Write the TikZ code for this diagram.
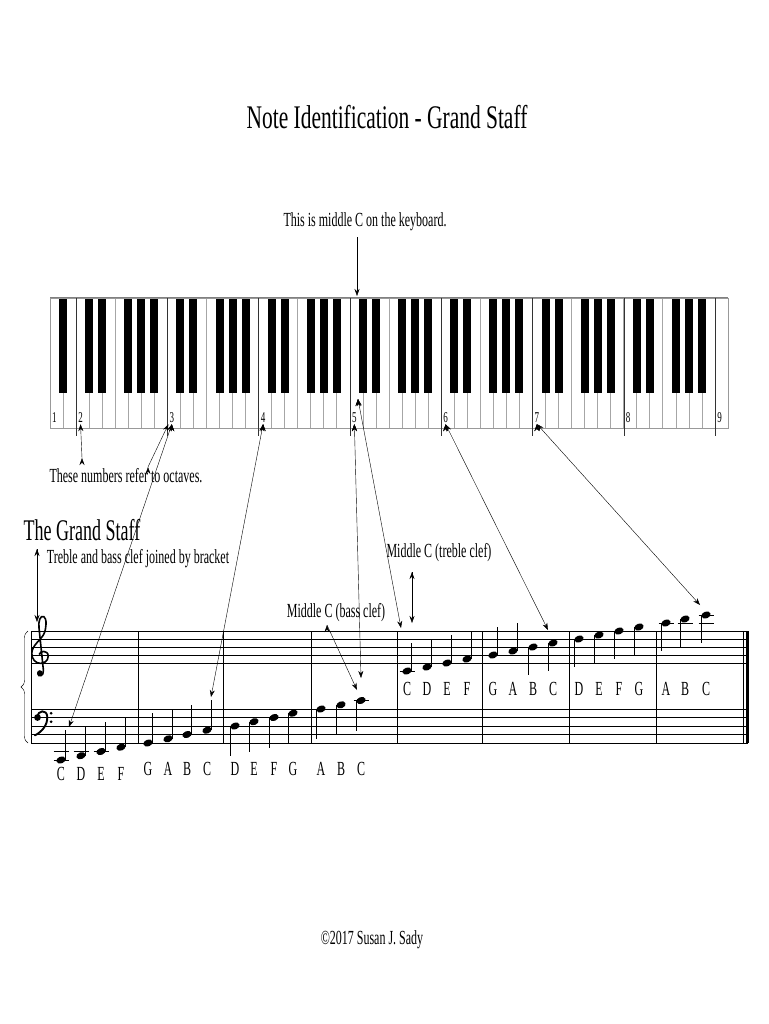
\documentclass[tikz,border=0pt]{standalone}
\usepackage{fontspec}
\setmainfont[FakeStretch=0.6]{Liberation Serif}
\newfontfamily\titolo[FakeStretch=0.65]{Liberation Serif}
\usetikzlibrary{arrows,arrows.meta,positioning,calc,shapes.geometric,decorations.pathreplacing}
\tikzset{main base/.style={inner sep=0pt,text centered, }, }
\tikzset{main text/.style={main base,font=\fontsize{20}{22}\selectfont}, }
\tikzset{main num/.style={inner sep=1pt,anchor=west,font=\fontsize{15}{16}\selectfont}, }
\tikzset{nota/.style={ellipse,fill,inner sep=0pt,minimum width=9.5pt,minimum height=6.8pt,rotate=20}, }
\tikzset{tasto/.style={draw=gray!70,fill=white,line width=0.8pt}, }
\tikzset{rigo/.style={draw,line width=1pt}, }
\tikzset{linea/.style={-{Stealth[length=7pt,width=5pt]},draw}}
\tikzset{linea2/.style={{Stealth[length=7pt,width=5pt]}-{Stealth[length=7pt,width=5pt]},draw}}

\begin{document}
\begin{tikzpicture}[x=1pt,y=-1pt]
  \useasboundingbox (0,0) rectangle (768,1024);
  % titles and texts
  \node[main base,font=\fontsize{33}{36}\titolo] (titolo) at (387,117) {Note Identification - Grand Staff};
  \node[main text] (tmid) at (365,222) {This is middle C on the keyboard.};
  \node[main text] (tott) at (126,476) {These numbers refer to octaves.};
  \node[main base,font=\fontsize{30}{32}\selectfont] (tgs) at (82,530) {The Grand Staff};
  \node[main text] (tbr) at (138,559) {Treble and bass clef joined by bracket};
  \node[main text] (mct) at (439,553) {Middle C (treble clef)};
  \node[main text] (mcb) at (336,613) {Middle C (bass clef)};
  \node[main text] (copy) at (372,940) {\textcopyright2017 Susan J. Sady};
  % keyboard
  \foreach \i in {0,...,51}
    \draw[tasto] ({50+13.04*\i},298) rectangle ++(13.04,130);
  \foreach \o in {0,...,6}
    \foreach \k in {1,2,4,5,6}
      \fill ({50+13.04*(2+7*\o+\k)-4},298) rectangle ++(8,95);
  \fill ({50+13.04-4},298) rectangle ++(8,95);
  \draw[gray,line width=2pt] (50,298) -- (728,298);
  \draw[gray!80,line width=1pt] (50,298) rectangle (728,428);
  \node[main num] (n1) at (51,418) {1};
  \foreach \k in {2,...,9}{
    \draw[gray!40!black] ({50+13.04*(2+7*(\k-2))},298) -- ++(0,138);
    \node[main num] (n\k) at ({50+13.04*(2+7*(\k-2))+1},418) {\k};
  }
  % staff
  \foreach \y in {631,639,647,655,663,709,717.5,726,734.5,743}
    \draw[rigo] (31,\y) -- (748,\y);
  \foreach \x in {31,138,223,311,397,482,569,656,743}
    \draw (\x,631) -- (\x,743);
  \draw[line width=3pt] (747.5,631) -- (747.5,743);
  \draw[decorate,decoration={brace,amplitude=7pt}] (28,743) -- (28,631);
  % treble clef (units: staff spaces, origin on the G line)
  \begin{scope}[shift={(41,655)},x=8pt,y=8pt,line width=1.6pt,line cap=round]
    \draw (-0.2,0.1) .. controls (-0.2,0.5) and (0.9,0.7) .. (0.9,-0.15)
      .. controls (0.9,-0.8) and (0.3,-1.05) .. (-0.05,-1.05)
      .. controls (-0.7,-1.05) and (-1.15,-0.5) .. (-1.15,0.2)
      .. controls (-1.15,1.2) and (0,1.9) .. (0.35,2.6)
      .. controls (0.7,3.3) and (0.75,4.6) .. (0.35,4.8)
      .. controls (-0.1,5.0) and (-0.35,4.2) .. (-0.25,3.4)
      -- (0.3,-1.9)
      .. controls (0.4,-2.7) and (-0.4,-2.8) .. (-0.4,-2.3);
    \fill (-0.15,-2.25) circle (0.35);
  \end{scope}
  % bass clef (origin on the F line)
  \begin{scope}[shift={(37.5,717.5)},x=8.5pt,y=8.5pt,line cap=round]
    \fill (0,0) circle (0.4);
    \draw[line width=1.9pt] (0,0) .. controls (0,0.9) and (1.1,1.0) .. (1.15,0.1)
      .. controls (1.2,-0.9) and (0.5,-1.7) .. (-0.3,-2.1);
    \fill (1.6,0.5) circle (0.17) (1.6,-0.5) circle (0.17);
  \end{scope}
  % notes: x/y/stem/letter/letter y
  \foreach \x/\y/\s/\l/\ly [count=\i] in {61/760/1/C/774,81/755.7/1/D/774,101/751.5/1/E/774,121/747.2/1/F/774,
      148/743/1/G/769,168/738.8/1/A/769,187/734.5/1/B/769,207/730.2/1/C/769,
      235/726/-1/D/769,254/721.7/-1/E/769,274/717.5/-1/F/769,293/713.2/-1/G/769,
      321/709/-1/A/769,341/704.8/-1/B/769,361/700.5/-1/C/769}{
    \node[nota] (b\i) at (\x,\y) {};
    \draw[line width=0.7pt] ({\x+4.2*\s},\y) -- ({\x+4.2*\s},{\y-30*\s});
    \node[main text] (lb\i) at (\x,\ly) {\l};
  }
  \foreach \x/\y/\s/\l [count=\i] in {407/671/1/C,427/667/1/D,447/663/1/E,467/659/1/F,
      493/655/1/G,513/651/1/A,533/647/-1/B,553/643/-1/C,
      579/639/-1/D,599/635/-1/E,619/631/-1/F,639/627/-1/G,
      666/623/-1/A,685/619/-1/B,706/615/-1/C}{
    \node[nota] (t\i) at (\x,\y) {};
    \draw[line width=0.7pt] ({\x+4.2*\s},\y) -- ({\x+4.2*\s},{\y-28*\s});
    \node[main text] (lt\i) at (\x,689) {\l};
  }
  % ledger lines
  \foreach \x/\y in {61/751.5,61/760,81/751.5,101/751.5,361/700.5,407/671,666/623,685/623,706/623,706/615}
    \draw[line width=1pt] (\x-7.5,\y) -- (\x+7.5,\y);
  % arrow ends
  \coordinate (kmid) at (357,296);
  \coordinate (p2) at (82,458);
  \coordinate (p3) at (148,467);
  \coordinate (g1) at (37,549);
  \coordinate (g2) at (37,622);
  \coordinate (m1) at (412,572);
  \coordinate (m2) at (412,623);
  \coordinate (m3) at (327,625);
  \coordinate (m4) at (357,690);
  \coordinate (a3) at (69,727);
  \coordinate (a4) at (211,697);
  \coordinate (a5) at (361,678);
  \coordinate (a5b) at (358,399);
  \coordinate (a5t) at (401,628);
  \coordinate (a6) at (548,630);
  \coordinate (a7) at (700,605);
  \draw[linea] (kmid |- tmid.south) ++(0,6) -- (kmid);
  \foreach \x/\y in {p2/n2.south,p3/n3.south west,g1/g2,m1/m2,m3/m4}
    \path[linea] (\x) edge (\y);
  \foreach \x/\y in {n3.south/a3,n4.south/a4,n5.south/a5,a5b/a5t,n6.south/a6,n7.south/a7}
    \path[linea2] (\x) edge (\y);
\end{tikzpicture}
\end{document}
